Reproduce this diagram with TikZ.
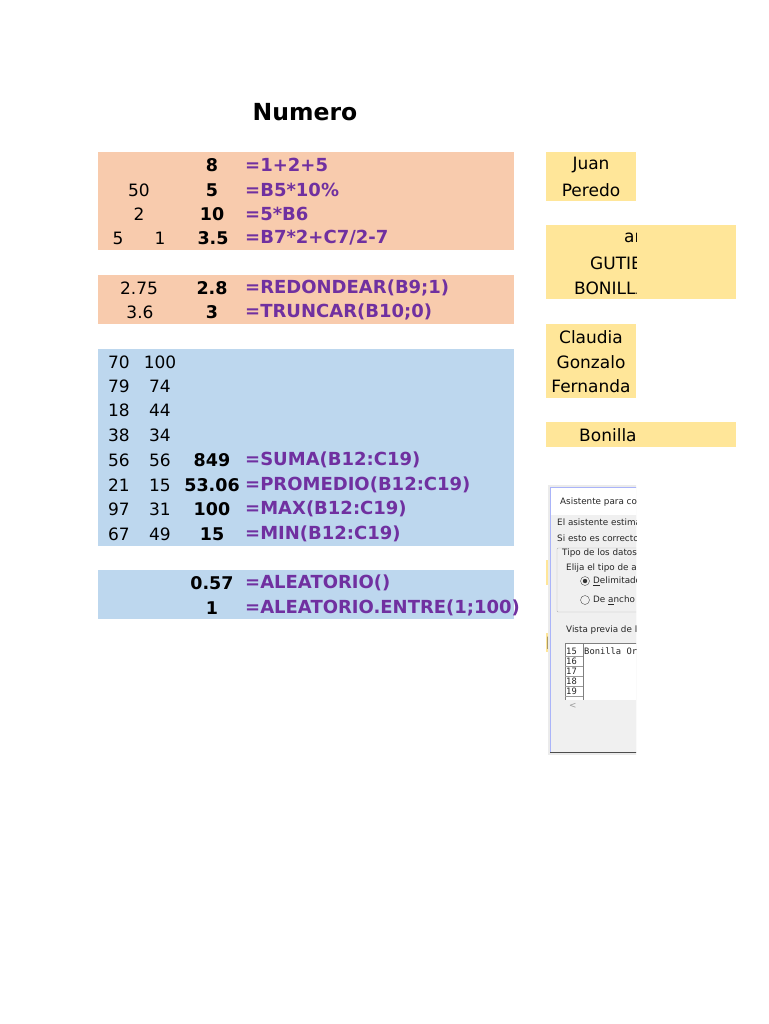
\documentclass[tikz,border=0pt]{standalone}
\usepackage{fontspec}
\setmainfont{DejaVu Sans}
\newfontfamily\monof{DejaVu Sans Mono}
\begin{document}
\begin{tikzpicture}[x=1pt,y=-1pt,
  t/.style={font=\fontsize{17}{17}\selectfont,inner sep=0pt,anchor=center},
  b/.style={t,font=\fontsize{17.5}{17.5}\selectfont\bfseries},
  f/.style={font=\fontsize{18}{18}\selectfont\bfseries,text=purp,inner sep=0pt,anchor=west},
  d/.style={font=\fontsize{8.8}{8.8}\selectfont,inner sep=0pt,anchor=west,text=black!85}]
\definecolor{orng}{HTML}{F8CBAD}\definecolor{blu}{HTML}{BDD7EE}
\definecolor{yel}{HTML}{FFE699}\definecolor{purp}{HTML}{7030A0}
\useasboundingbox (0,0) rectangle (768,1024);
\fill[white] (0,0) rectangle (768,1024);
\node[inner sep=0pt,font=\fontsize{23.5}{23.5}\selectfont\bfseries] (title) at (305,112) {Numero};
\fill[orng] (98,152) rectangle (514,250);
\fill[orng] (98,275) rectangle (514,324);
\fill[blu] (98,349) rectangle (514,546);
\fill[blu] (98,570) rectangle (514,619);
% orange block
\node[b] (c5) at (212,165) {8}; \node[f] (d5) at (245,165) {=1+2+5};
\node[t] (a6) at (139,190) {50}; \node[b] (c6) at (212,190) {5}; \node[f] (d6) at (245,190) {=B5*10\%};
\node[t] (a7) at (139,214) {2}; \node[b] (c7) at (212,214) {10}; \node[f] (d7) at (245,214) {=5*B6};
\node[t] (a8) at (118,238) {5}; \node[t] (b8) at (160,238) {1}; \node[b] (c8) at (213,238) {3.5}; \node[f] (d8) at (245,238) {=B7*2+C7/2-7};
\node[t] (a9) at (139,288) {2.75}; \node[b] (c9) at (212,288) {2.8}; \node[f] (d9) at (245,288) {=REDONDEAR(B9;1)};
\node[t] (a10) at (140,312) {3.6}; \node[b] (c10) at (212,312) {3}; \node[f] (d10) at (245,312) {=TRUNCAR(B10;0)};
% blue block
\foreach \y/\p/\q in {362/70/100,386/79/74,410/18/44,435/38/34,460/56/56,485/21/15,509/97/31,534/67/49}
  {\node[t] at (119,\y) {\p}; \node[t] at (160,\y) {\q};}
\node[b] (c16) at (212,460) {849}; \node[f] (d16) at (245,460) {=SUMA(B12:C19)};
\node[b] (c17) at (212,485) {53.06}; \node[f] (d17) at (245,485) {=PROMEDIO(B12:C19)};
\node[b] (c18) at (212,509) {100}; \node[f] (d18) at (245,509) {=MAX(B12:C19)};
\node[b] (c19) at (212,534) {15}; \node[f] (d19) at (245,534) {=MIN(B12:C19)};
\node[b] (c21) at (212,583) {0.57}; \node[f] (d21) at (245,583) {=ALEATORIO()};
\node[b] (c22) at (212,608) {1}; \node[f] (d22) at (245,608) {=ALEATORIO.ENTRE(1;100)};
% right yellow cells
\fill[yel] (546,152) rectangle (636,201);
\fill[yel] (546,225) rectangle (736,299);
\fill[yel] (546,324) rectangle (636,398);
\fill[yel] (546,422) rectangle (736,447);
\fill[yel] (546,560) rectangle (552,585);
\fill[yel] (546,633) rectangle (552,652);
\node[t] (n1) at (591,165) {Juan}; \node[t] (n2) at (591,190) {Peredo};
\begin{scope}
\clip (540,0) rectangle (636,1024);
\node[t,anchor=west] (n3) at (624,238) {ana};
\node[t,anchor=west] (n4) at (590,263) {GUTIERREZ};
\node[t,anchor=west] (n5) at (574,288) {BONILLA};
\node[t] (n6) at (591,337) {Claudia}; \node[t] (n7) at (591,362) {Gonzalo}; \node[t] (n8) at (591,386) {Fernanda};
\node[t,anchor=west] (n9) at (579,435) {Bonilla Ortiz};
\node[t,anchor=west] at (546,643) {B};
% dialog
\fill[black!8] (548,485) rectangle (640,755);
\fill[white] (550,487) rectangle (640,515);
\fill[black!6] (550,515) rectangle (640,752);
\draw[blu!60!blue!60,line width=0.8pt] (550,752) -- (550,487) -- (640,487);
\draw[black!70] (550,752) -- (640,752);
\node[d] (dt) at (560,502) {Asistente para convertir};
\node[d] (d1) at (557,523) {El asistente estima que};
\node[d] (d2) at (557,539) {Si esto es correcto, elija};
\draw[black!30,rounded corners=1pt] (640,548) -- (557,548) -- (557,612) -- (640,612);
\node[d,fill=black!6,inner xsep=1pt] (d3) at (561,553) {Tipo de los datos};
\node[d] (d4) at (566,568) {Elija el tipo de archivo};
\draw[black!70] (585,581) circle (4.5); \fill[black!80] (585,581) circle (2.2);
\node[d] (r1) at (593,581) {\underline{D}elimitados};
\draw[black!70] (585,600) circle (4.5);
\node[d] (r2) at (593,600) {De \underline{a}ncho fijo};
\node[d] (d5) at (566,630) {Vista previa de los datos};
\fill[white] (565,643) rectangle (640,700);
\draw[black!50] (640,643) -- (565,643) -- (565,700);
\draw[black!50] (583,643) -- (583,700);
\foreach \y/\n in {651/15,661/16,671/17,681/18,691/19}
  {\node[d,font=\fontsize{8.8}{8.8}\selectfont\monof] at (566,\y) {\n};
   \draw[black!40] (565,\y+5) -- (583,\y+5);}
\node[d,font=\fontsize{8.8}{8.8}\selectfont\monof] (pv) at (584,651) {Bonilla Ortiz};
\node[d,text=black!40] (lt) at (569,706) {<};
\end{scope}
\end{tikzpicture}
\end{document}
